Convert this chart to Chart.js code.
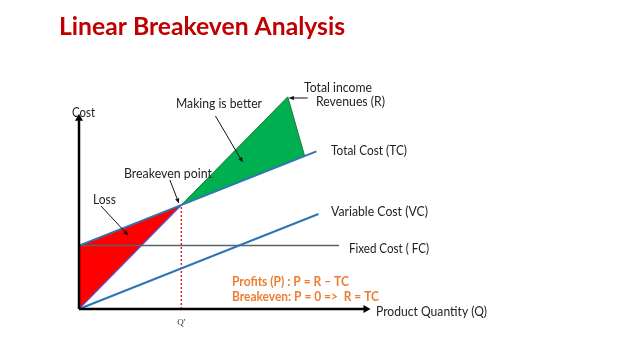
<!DOCTYPE html>
<html>
<head>
<meta charset="utf-8">
<script src="https://cdn.jsdelivr.net/npm/chart.js@4.4.1/dist/chart.umd.min.js"></script>
<style>
  html, body { margin: 0; padding: 0; background: #fff; }
  #wrap { width: 638px; height: 359px; }
</style>
</head>
<body>
<div id="wrap"><canvas id="grafico"></canvas></div>
<script>
// Dados (quantidade Q, custo C)
const qTotalCost = [0, 232];
const cTotalCost = [61, 151.5];
const qVariableCost = [0, 234];
const cVariableCost = [0, 91.3];
const qFixedCost = [0, 254];
const cFixedCost = [61, 61];
// Regiões de perda e lucro
const qLossRevenue = [0, 100];
const cLossRevenue = [0, 100];
const qLossCost = [0, 100];
const cLossCost = [61, 100];
const qProfitRevenue = [100, 204, 220.5];
const cProfitRevenue = [100, 204, 147];
const qProfitCost = [100, 220.5];
const cProfitCost = [100, 147];
// Ponto de equilíbrio (Q')
const qBreakeven = [100, 100];
const cBreakeven = [0, 100];
// Eixos desenhados
const qAxisX = [0, 279];
const cAxisX = [0, 0];
const qAxisY = [0, 0];
const cAxisY = [0, 182];

const pontos = (xs, ys) => xs.map((v, i) => ({ x: v, y: ys[i] }));

// Setas de indicação (coordenadas no espaço dos dados)
const setas = [
  { de: [133.3, 185.6], para: [159.8, 141.3] },   // Making is better
  { de: [223.5, 202.9], para: [205.5, 202.9] },   // Total income
  { de: [88.8, 124.0], para: [97.5, 102.0] },     // Breakeven point
  { de: [21.5, 99.0], para: [47.8, 71.2] }        // Loss
];

// Textos (posição em pixels: esquerda, linha de base, largura)
const rotulos = [
  { t: "Linear Breakeven Analysis", x: 59, y: 35, w: 286, cor: "#C00000", bold: true, size: 24 },
  { t: "Cost", x: 72, y: 117, w: 23, cor: "#222", size: 13 },
  { t: "Making is better", x: 176, y: 107.5, w: 86, cor: "#222", size: 13 },
  { t: "Total income", x: 304, y: 92, w: 68, cor: "#222", size: 13 },
  { t: "Revenues (R)", x: 316, y: 105.5, w: 69, cor: "#222", size: 13 },
  { t: "Total Cost (TC)", x: 331, y: 155, w: 76, cor: "#222", size: 13 },
  { t: "Variable Cost (VC)", x: 331, y: 216, w: 97, cor: "#222", size: 13 },
  { t: "Fixed Cost ( FC)", x: 349, y: 253, w: 80, cor: "#222", size: 13 },
  { t: "Breakeven point", x: 124, y: 178, w: 88, cor: "#222", size: 13 },
  { t: "Loss", x: 93, y: 204, w: 23, cor: "#222", size: 13 },
  { t: "Profits (P) : P = R \u2013 TC", x: 232, y: 286, w: 117, cor: "#ED7D31", bold: true, size: 12.5 },
  { t: "Breakeven: P = 0 =>  R = TC", x: 232, y: 301, w: 147, cor: "#ED7D31", bold: true, size: 12.5 },
  { t: "Product Quantity (Q)", x: 376, y: 316, w: 111, cor: "#222", size: 13 }
];

const linha = (data, cor, largura, extra) => Object.assign({
  data: data,
  borderColor: cor,
  borderWidth: largura,
  pointRadius: 0,
  fill: false,
  clip: false,
  tension: 0
}, extra || {});

const anotacoes = {
  id: "anotacoes",
  afterDatasetsDraw(chart) {
    const { ctx, scales: { x, y } } = chart;
    ctx.save();

    // Pontas dos eixos
    ctx.fillStyle = "#000";
    const xf = x.getPixelForValue(qAxisX[1]), y0 = y.getPixelForValue(0);
    ctx.beginPath();
    ctx.moveTo(xf + 6, y0);
    ctx.lineTo(xf - 1, y0 - 4);
    ctx.lineTo(xf - 1, y0 + 4);
    ctx.closePath();
    ctx.fill();
    const x0 = x.getPixelForValue(0), yf = y.getPixelForValue(cAxisY[1]);
    ctx.beginPath();
    ctx.moveTo(x0, yf - 6);
    ctx.lineTo(x0 - 4, yf + 1);
    ctx.lineTo(x0 + 4, yf + 1);
    ctx.closePath();
    ctx.fill();

    // Setas finas
    ctx.strokeStyle = "#111";
    ctx.lineWidth = 1;
    setas.forEach(s => {
      const ax = x.getPixelForValue(s.de[0]), ay = y.getPixelForValue(s.de[1]);
      const bx = x.getPixelForValue(s.para[0]), by = y.getPixelForValue(s.para[1]);
      const ang = Math.atan2(by - ay, bx - ax);
      ctx.beginPath();
      ctx.moveTo(ax, ay);
      ctx.lineTo(bx, by);
      ctx.stroke();
      ctx.beginPath();
      ctx.moveTo(bx, by);
      ctx.lineTo(bx - 5 * Math.cos(ang - 0.45), by - 5 * Math.sin(ang - 0.45));
      ctx.lineTo(bx - 5 * Math.cos(ang + 0.45), by - 5 * Math.sin(ang + 0.45));
      ctx.closePath();
      ctx.fillStyle = "#111";
      ctx.fill();
    });

    // Textos: altura pela fonte, largura ajustada por escala horizontal
    ctx.textBaseline = "alphabetic";
    ctx.textAlign = "left";
    rotulos.forEach(r => {
      const peso = r.bold ? "bold " : "";
      ctx.font = peso + r.size + "px Lato";
      const medida = ctx.measureText(r.t).width;
      ctx.save();
      ctx.translate(r.x, r.y);
      ctx.scale(r.w / medida, 1);
      ctx.fillStyle = r.cor;
      ctx.fillText(r.t, 0, 0);
      ctx.restore();
    });

    // Q' abaixo do eixo
    ctx.font = "9px 'Liberation Serif'";
    ctx.fillStyle = "#333";
    ctx.textAlign = "center";
    ctx.fillText("Q'", x.getPixelForValue(qBreakeven[0]), y0 + 16);
    ctx.restore();
  }
};

const chart = new Chart(document.getElementById("grafico"), {
  type: "line",
  data: {
    datasets: [
      // 0: lado do custo na região de perda (alvo do preenchimento)
      linha(pontos(qLossCost, cLossCost), "rgba(0,0,0,0)", 0, { order: 10 }),
      // 1: região de perda
      linha(pontos(qLossRevenue, cLossRevenue), "#5A52C8", 1.2, { fill: 0, backgroundColor: "#FF0000", order: 9 }),
      // 2: lado do custo na região de lucro
      linha(pontos(qProfitCost, cProfitCost), "rgba(0,0,0,0)", 0, { order: 10 }),
      // 3: região de lucro
      linha(pontos(qProfitRevenue, cProfitRevenue), "#1E7A3A", 1, { fill: 2, backgroundColor: "#00B050", order: 9 }),
      // linhas de custo
      linha(pontos(qTotalCost, cTotalCost), "#2E75B6", 2, { order: 2 }),
      linha(pontos(qVariableCost, cVariableCost), "#2E75B6", 2, { order: 2 }),
      linha(pontos(qFixedCost, cFixedCost), "#59636E", 1.5, { order: 3 }),
      // Q' pontilhado
      linha(pontos(qBreakeven, cBreakeven), "#E0262B", 1.5, { borderDash: [2, 2], order: 4 }),
      // eixos
      linha(pontos(qAxisX, cAxisX), "#000", 2.5, { order: 1 }),
      linha(pontos(qAxisY, cAxisY), "#000", 2.5, { order: 1 })
    ]
  },
  options: {
    responsive: true,
    maintainAspectRatio: false,
    devicePixelRatio: 1,
    animation: false,
    layout: { padding: { left: 79, right: 252, top: 49, bottom: 50 } },
    scales: {
      x: { type: "linear", min: 0, max: 300, display: false },
      y: { type: "linear", min: 0, max: 250, display: false }
    },
    plugins: {
      legend: { display: false },
      tooltip: { enabled: false },
      title: { display: false }
    }
  },
  plugins: [anotacoes]
});
</script>
</body>
</html>
